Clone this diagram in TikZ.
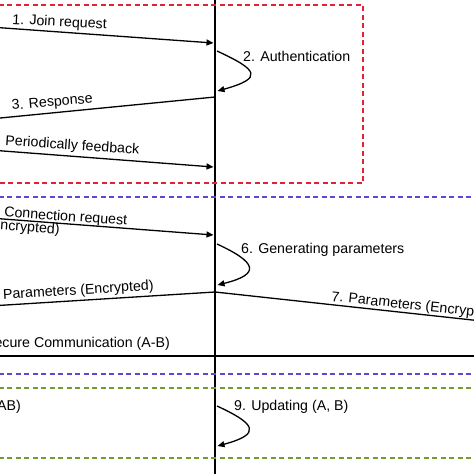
\documentclass[tikz,border=0pt]{standalone}
\usepackage{fontspec}
\setmainfont{Liberation Sans}
\usetikzlibrary{arrows.meta}
\definecolor{boxred}{RGB}{225,35,55}
\definecolor{boxblue}{RGB}{95,70,215}
\definecolor{boxgreen}{RGB}{115,155,50}
\tikzset{
  msg/.style={line width=1.3pt,-{Triangle[length=7pt,width=6pt]}},
  plain/.style={line width=1.3pt},
  life/.style={line width=1.4pt},
  sep/.style={line width=1.3pt,dash pattern=on 5pt off 3.5pt},
  lbl/.style={font=\fontsize{14.2}{15}\selectfont,inner sep=0pt},
}
\begin{document}
\begin{tikzpicture}[x=1pt,y=-1pt]
\useasboundingbox (0,0) rectangle (474,474);
\clip (0,0) rectangle (474,474);
% lifeline
\coordinate (ltop) at (215,-5);
\coordinate (lbot) at (215,480);
\draw[life] (ltop) -- (lbot);
% red box
\draw[sep,boxred] (-10,5) -- (363,5) -- (363,183) -- (-10,183);
% blue lines
\coordinate (b1l) at (-10,197); \coordinate (b1r) at (484,197);
\draw[sep,boxblue] (b1l) -- (b1r);
\coordinate (b2l) at (-10,374); \coordinate (b2r) at (484,374);
\draw[sep,boxblue] (b2l) -- (b2r);
% green lines
\coordinate (g1l) at (-10,388); \coordinate (g1r) at (484,388);
\draw[sep,boxgreen] (g1l) -- (g1r);
\coordinate (g2l) at (-10,458); \coordinate (g2r) at (484,458);
\draw[sep,boxgreen] (g2l) -- (g2r);

% 1. Join request
\coordinate (j1) at (-10,27); \coordinate (j2) at (213.5,43);
\draw[msg] (j1) -- (j2);
\node[lbl,anchor=base west,rotate=-3] (t1) at (12,24) {1. Join request};
% 2. Authentication
\coordinate (a1) at (217,51); \coordinate (a2) at (217.5,91);
\draw[msg] (a1) .. controls (258,70) and (264,78) .. (a2);
\node[lbl,anchor=base west] (t2) at (243,61) {2. Authentication};
% 3. Response
\coordinate (r1) at (215,97); \coordinate (r2) at (-10,119);
\draw[msg] (r1) -- (r2);
\node[lbl,anchor=base west,rotate=5] (t3) at (12,110) {3. Response};
% Periodically feedback
\coordinate (p1) at (-10,150); \coordinate (p2) at (213.5,167);
\draw[msg] (p1) -- (p2);
\node[lbl,anchor=base west,rotate=-4] (t4) at (5,145) {Periodically feedback};
% 5. Connection request
\coordinate (c1) at (-10,218); \coordinate (c2) at (213.5,235);
\draw[msg] (c1) -- (c2);
\node[lbl,anchor=north west,rotate=-4,align=left,font=\fontsize{14.2}{13.5}\selectfont] (t5) at (-12.5,205) {5. Connection request\\(Encrypted)};
% 6. Generating parameters
\coordinate (g1) at (217,244); \coordinate (g2) at (217.5,285);
\draw[msg] (g1) .. controls (256,262) and (262,274) .. (g2);
\node[lbl,anchor=base west] (t6) at (241,253) {6. Generating parameters};
% 7. Parameters to A
\coordinate (m1) at (215,292); \coordinate (m2) at (-10,306);
\draw[msg] (m1) -- (m2);
\node[lbl,anchor=base east,rotate=3.5] (t7a) at (154,290) {7. Parameters (Encrypted)};
% 7. Parameters to B
\coordinate (n2) at (500,323);
\draw[msg] (m1) -- (n2);
\node[lbl,anchor=base west,rotate=-6] (t7b) at (331,301) {7. Parameters (Encrypted)};
% 8. Secure Communication
\coordinate (s1) at (-10,356); \coordinate (s2) at (484,356);
\draw[plain] (s1) -- (s2);
\node[lbl,anchor=base east] (t8) at (170,347) {8. Secure Communication (A-B)};
% 9. Updating
\node[lbl,anchor=base east] (t9a) at (21,410) {(AB)};
\coordinate (u1) at (217,406); \coordinate (u2) at (217.5,446);
\draw[msg] (u1) .. controls (256,424) and (262,434) .. (u2);
\node[lbl,anchor=base west] (t9) at (234,410) {9. Updating (A, B)};
\end{tikzpicture}
\end{document}
